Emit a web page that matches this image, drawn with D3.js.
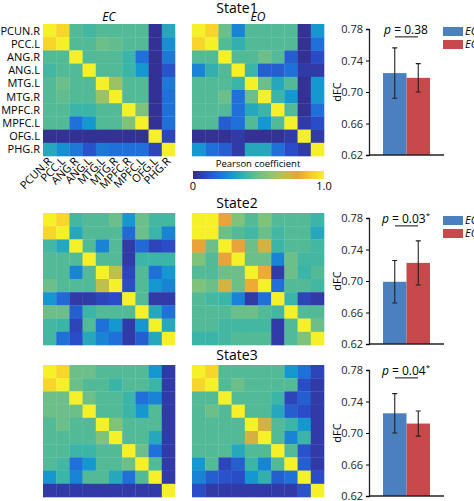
<!DOCTYPE html><html><head><meta charset="utf-8">
<script src="https://cdn.jsdelivr.net/npm/d3@7"></script>
<style>body{margin:0;background:#fff}</style></head><body><svg id="c" width="474" height="501"></svg>
<script>
const regions=["PCUN.R","PCC.L","ANG.R","ANG.L","MTG.L","MTG.R","MPFC.R","MPFC.L","OFG.L","PHG.R"];
const states=["State1","State2","State3"];
const conditions=["EC","EO"];
const s1EC=[[1,.93,.45,.42,.45,.45,.45,.45,.02,.35],[.93,1,.45,.45,.5,.48,.45,.45,.02,.28],[.45,.45,1,.45,.45,.45,.4,.2,.02,.22],[.42,.45,.45,1,.45,.45,.4,.3,.02,.12],[.45,.5,.45,.45,1,.62,.45,.45,.02,.22],[.45,.48,.45,.45,.62,1,.45,.45,.02,.2],[.45,.45,.4,.4,.45,.45,1,.55,.02,.2],[.45,.45,.2,.3,.45,.45,.55,1,.02,.2],[.02,.02,.02,.02,.02,.02,.02,.02,1,.08],[.35,.28,.22,.12,.22,.2,.2,.2,.08,1]];
const s1EO=[[1,.93,.5,.25,.45,.45,.45,.45,.02,.3],[.93,1,.45,.38,.45,.45,.45,.45,.02,.2],[.45,.45,1,.45,.45,.5,.45,.15,.02,.1],[.25,.38,.45,1,.4,.15,.15,.2,.05,.05],[.45,.45,.45,.4,1,.5,.35,.45,.02,.3],[.45,.45,.5,.2,.5,1,.4,.3,.02,.3],[.45,.45,.45,.2,.35,.4,1,.45,.02,.2],[.45,.45,.15,.2,.45,.3,.45,1,.05,.1],[.02,.02,.02,.05,.02,.02,.02,.05,1,.05],[.3,.2,.15,.05,.35,.35,.2,.1,.05,1]];
const s2EC=[[1,.93,.42,.45,.45,.5,.3,.5,.42,.42],[.93,1,.35,.45,.45,.45,.18,.5,.4,.25],[.42,.35,1,.45,.25,.45,.05,.18,.08,.1],[.45,.45,.45,1,.45,.45,.05,.4,.4,.4],[.45,.45,.25,.45,1,.7,.08,.45,.2,.3],[.5,.45,.45,.45,.7,1,.1,.45,.3,.25],[.3,.18,.05,.05,.08,.1,1,.45,.05,.05],[.5,.5,.15,.4,.45,.45,.45,1,.35,.2],[.42,.4,.08,.45,.2,.3,.05,.3,1,.35],[.42,.2,.1,.35,.25,.2,.05,.15,.35,1]];
const s2EO=[[1,1,.8,.55,.45,.55,.45,.45,.45,.4],[1,1,.5,.45,.42,.5,.42,.45,.45,.35],[.8,.5,1,.8,.5,.75,.4,.45,.45,.42],[.55,.45,.8,1,.5,.5,.25,.5,.42,.42],[.45,.45,.5,.5,1,.82,.05,.5,.4,.45],[.55,.5,.75,.5,.82,1,.2,.45,.45,.42],[.45,.42,.4,.25,.05,.2,1,.4,.08,.05],[.45,.45,.45,.5,.5,.45,.42,1,.45,.45],[.45,.45,.42,.42,.42,.42,.05,.45,1,.5],[.4,.4,.42,.45,.45,.45,.05,.45,.55,1]];
const s3EC=[[1,.93,.5,.5,.45,.45,.45,.45,.3,.05],[.93,1,.5,.45,.45,.4,.45,.45,.4,.05],[.5,.5,1,.5,.45,.45,.4,.2,.25,.05],[.5,.5,.5,1,.45,.45,.4,.3,.45,.05],[.45,.5,.45,.45,1,.55,.45,.45,.45,.05],[.45,.45,.45,.45,.55,1,.45,.45,.35,.05],[.45,.45,.4,.4,.45,.45,1,.5,.2,.05],[.45,.42,.2,.3,.45,.45,.5,1,.45,.05],[.3,.4,.25,.45,.45,.35,.2,.45,1,.05],[.05,.05,.05,.05,.05,.05,.05,.05,.05,1]];
const s3EO=[[1,.93,.45,.45,.45,.45,.45,.3,.2,.08],[.93,1,.45,.5,.45,.45,.45,.45,.1,.05],[.45,.45,1,.45,.45,.45,.4,.08,.15,.05],[.45,.5,.45,1,.45,.45,.35,.15,.1,.05],[.45,.45,.45,.45,1,.75,.45,.4,.3,.05],[.45,.45,.45,.45,.75,1,.45,.25,.4,.05],[.45,.45,.45,.35,.45,.45,1,.45,.12,.05],[.3,.45,.08,.15,.4,.25,.45,1,.15,.05],[.25,.15,.12,.1,.3,.38,.15,.2,1,.1],[.1,.05,.05,.05,.05,.05,.05,.05,.12,1]];
const matrices=[[s1EC,s1EO],[s2EC,s2EO],[s3EC,s3EO]];
const barMeans=[[0.724,0.718],[0.699,0.723],[0.725,0.712]];
const barErrors=[[0.032,0.018],[0.027,0.028],[0.025,0.016]];
const pLabels=["p = 0.38","p = 0.03","p = 0.04"];
const pStars=["","*","*"];
const yTicks=[0.62,0.66,0.70,0.74,0.78];
const legendLabels=["EC","EG"];

const svg=d3.select("#c");
const F="'Open Sans', sans-serif";
const stops=["#352a87","#2a4cc6","#1f70d8","#1598cf","#3ab5a8","#6cbf88","#92c46c","#bfc04a","#eaa23a","#f8c92c","#f6f028"];
const color=d3.scaleLinear().domain(d3.range(stops.length).map(i=>i/(stops.length-1))).range(stops).clamp(true);
const tops=[24,213,365], lefts=[43,192], size=132;
const band=d3.scaleBand().domain(regions).range([0,size]);
states.forEach((st,si)=>{
  svg.append("text").attr("x",237).attr("y",si==0?13:tops[si]-5).attr("text-anchor","middle").attr("font-family",F).attr("font-size",14).text(st);
  conditions.forEach((c,ci)=>{
    const g=svg.append("g").attr("transform",`translate(${lefts[ci]},${tops[si]})`);
    const m=matrices[si][ci];
    m.forEach((row,r)=>row.forEach((v,k)=>{
      g.append("rect").attr("x",band(regions[k])).attr("y",band(regions[r])).attr("width",band.bandwidth()+0.3).attr("height",band.bandwidth()+0.3).attr("fill",color(v));
    }));
    if(si==0){
      g.append("text").attr("x",size/2).attr("y",-3).attr("text-anchor","middle").attr("font-family",F).attr("font-style","italic").attr("font-size",12).text(c);
      if(ci==0){
        regions.forEach(rg=>{
          g.append("text").attr("x",-3).attr("y",band(rg)+band.bandwidth()/2+4).attr("text-anchor","end").attr("font-family",F).attr("font-size",11).text(rg);
          const cx=band(rg)+band.bandwidth()/2+3;
          g.append("text").attr("transform",`translate(${cx},${size+6}) rotate(-45)`).attr("text-anchor","end").attr("font-family",F).attr("font-size",11).text(rg);
        });
      }
    }
  });
  const y=d3.scaleLinear().domain([0.62,0.78]).range([tops[si]+size-1,tops[si]+5]);
  const x=d3.scaleBand().domain(conditions).range([383,430]).padding(0);
  const bg=svg.append("g");
  const ax=bg.append("g").attr("transform","translate(369,0)").call(d3.axisLeft(y).tickValues(yTicks).tickFormat(d3.format(".2f")).tickSize(3));
  ax.selectAll("text").attr("font-family",F).attr("font-size",11).attr("fill","#222");
  ax.select(".domain").attr("stroke","#222").attr("stroke-width",1.3);
  conditions.forEach((c,ci)=>{
    bg.append("rect").attr("x",x(c)).attr("y",y(barMeans[si][ci])).attr("width",x.bandwidth()).attr("height",y(0.62)-y(barMeans[si][ci])).attr("fill",ci?"#c8484c":"#4a7fc0");
    const cx=x(c)+x.bandwidth()/2,hi=y(barMeans[si][ci]+barErrors[si][ci]),lo=y(barMeans[si][ci]-barErrors[si][ci]);
    bg.append("path").attr("d",`M${cx},${hi}V${lo}M${cx-2.5},${hi}H${cx+2.5}M${cx-2.5},${lo}H${cx+2.5}`).attr("stroke","#222").attr("stroke-width",1.1).attr("fill","none");
  });
  bg.append("line").attr("x1",369).attr("x2",444).attr("y1",y(0.62)).attr("y2",y(0.62)).attr("stroke","#222").attr("stroke-width",1.3);
  bg.append("line").attr("x1",395).attr("x2",418).attr("y1",y(0.77)).attr("y2",y(0.77)).attr("stroke","#222").attr("stroke-width",1.1);
  const pt=bg.append("text").attr("x",406).attr("y",y(0.77)-3).attr("text-anchor","middle").attr("font-family",F).attr("font-size",12);
  const parts=pLabels[si].split(" = ");
  pt.append("tspan").attr("font-style","italic").text(parts[0]);
  pt.append("tspan").text(" = "+parts[1]);
  if(pStars[si]) pt.append("tspan").attr("font-size",8).attr("dy",-5).text(pStars[si]);
  bg.append("text").attr("transform",`translate(${341},${(y(0.62)+y(0.78))/2}) rotate(-90)`).attr("text-anchor","middle").attr("font-family",F).attr("font-size",11).text("dFC");
  if(si<2){
    legendLabels.forEach((l,li)=>{
      bg.append("rect").attr("x",443).attr("y",tops[si]+3+li*13).attr("width",20).attr("height",9).attr("fill",li?"#c8484c":"#4a7fc0");
      bg.append("text").attr("x",465).attr("y",tops[si]+11+li*13).attr("font-family",F).attr("font-style","italic").attr("font-size",11).text(l);
    });
  }
});
const defs=svg.append("defs");
const gr=defs.append("linearGradient").attr("id","cb");
stops.forEach((s,i)=>gr.append("stop").attr("offset",i/(stops.length-1)).attr("stop-color",s));
svg.append("rect").attr("x",193).attr("y",171).attr("width",131).attr("height",8).attr("fill","url(#cb)");
svg.append("text").attr("x",258).attr("y",167).attr("text-anchor","middle").attr("font-family",F).attr("font-size",9.5).text("Pearson coefficient");
const cbx=d3.scaleLinear().domain([0,1]).range([193,324]);
svg.append("text").attr("x",cbx(0)).attr("y",190).attr("text-anchor","middle").attr("font-family",F).attr("font-size",11).text("0");
svg.append("text").attr("x",cbx(1)).attr("y",190).attr("text-anchor","middle").attr("font-family",F).attr("font-size",11).text("1.0");
</script></body></html>
